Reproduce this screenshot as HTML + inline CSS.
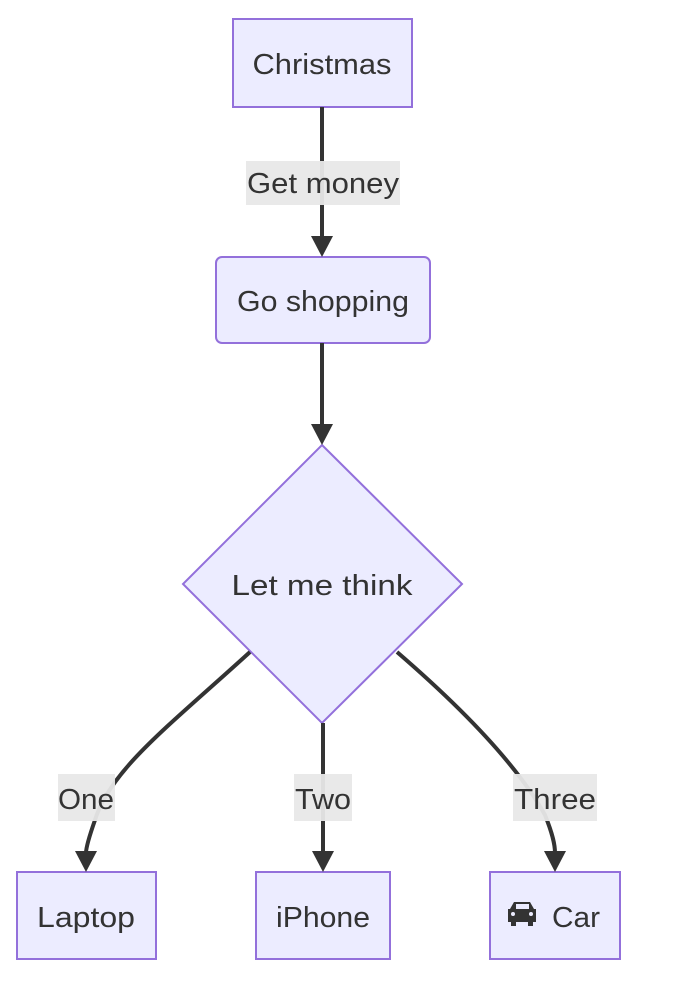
<!DOCTYPE html>
<html><head><meta charset="utf-8"><style>
html,body{margin:0;padding:0;background:#fff;}
svg{display:block;}
text{font-family:"Liberation Sans","DejaVu Sans",sans-serif;font-size:29px;fill:#333;}
</style></head><body>
<svg width="694" height="1006" viewBox="0 0 694 1006">
<g fill="#ececff" stroke="#9370db" stroke-width="2">
<rect x="233" y="19" width="179" height="88"/>
<rect x="216" y="257" width="214" height="86" rx="6"/>
<polygon points="322,445 462,584 322,723 183,584"/>
<rect x="17" y="872" width="139" height="87"/>
<rect x="256" y="872" width="134" height="87"/>
<rect x="490" y="872" width="130" height="87"/>
</g>
<g fill="none" stroke="#333" stroke-width="4">
<path d="M322 107 V238"/>
<path d="M322 343 V426"/>
<path d="M250 652 C170 725 110 770 95 820 C88 840 86 850 86 853"/>
<path d="M323 723 V853"/>
<path d="M397 652 C470 715 520 770 545 815 C553 835 555 845 555 853"/>
</g>
<g fill="#333">
<polygon points="311,236 333,236 322,257"/>
<polygon points="311,424 333,424 322,445"/>
<polygon points="75,851 97,851 86,872"/>
<polygon points="312,851 334,851 323,872"/>
<polygon points="544,851 566,851 555,872"/>
</g>
<g fill="#e8e8e8" opacity="0.95">
<rect x="246" y="161" width="154" height="44"/>
<rect x="58" y="774" width="57" height="47"/>
<rect x="294" y="774" width="58" height="47"/>
<rect x="513" y="774" width="84" height="47"/>
</g>
<g text-anchor="middle">
<text x="322" y="74" textLength="139" lengthAdjust="spacingAndGlyphs">Christmas</text>
<text x="323" y="193" textLength="152" lengthAdjust="spacingAndGlyphs">Get money</text>
<text x="323" y="311" textLength="172" lengthAdjust="spacingAndGlyphs">Go shopping</text>
<text x="322" y="595" textLength="181" lengthAdjust="spacingAndGlyphs">Let me think</text>
<text x="86" y="809" textLength="56" lengthAdjust="spacingAndGlyphs">One</text>
<text x="323" y="809" textLength="56" lengthAdjust="spacingAndGlyphs">Two</text>
<text x="555" y="809" textLength="82" lengthAdjust="spacingAndGlyphs">Three</text>
<text x="86" y="927" textLength="98" lengthAdjust="spacingAndGlyphs">Laptop</text>
<text x="323" y="927" textLength="94" lengthAdjust="spacingAndGlyphs">iPhone</text>
<text x="576" y="927" textLength="48" lengthAdjust="spacingAndGlyphs">Car</text>
</g>
<g fill="#333">
<path d="M510 909 L514 902 H530 L534 909 H536 V922 H533 V926 H528 V922 H516 V926 H511 V922 H508 V909 Z"/>
<circle cx="513" cy="914" r="2" fill="#ececff"/>
<circle cx="531" cy="914" r="2" fill="#ececff"/>
<rect x="516" y="904" width="13" height="5" fill="#ececff"/>
</g>
</svg>
</body></html>
